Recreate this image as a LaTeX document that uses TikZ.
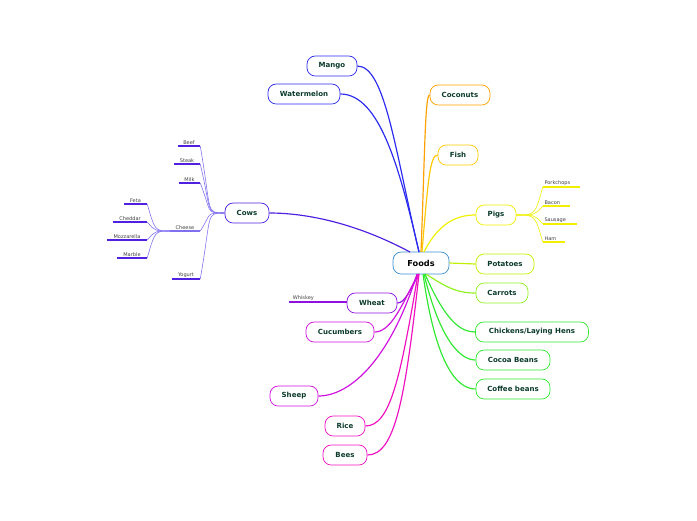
\documentclass[tikz,border=0pt]{standalone}
\usepackage{fontspec}
\setmainfont{DejaVu Sans}
\usepackage{tikz}
\usetikzlibrary{positioning}
\definecolor{cblue}{HTML}{2B2BF0}
\definecolor{cfoods}{HTML}{3A8FD0}
\definecolor{corange}{HTML}{FFA000}
\definecolor{cgold}{HTML}{FFC800}
\definecolor{cyel}{HTML}{F0F000}
\definecolor{cyg}{HTML}{C0F000}
\definecolor{clg}{HTML}{90F020}
\definecolor{cgreen}{HTML}{30E830}
\definecolor{cviolet}{HTML}{5020E0}
\definecolor{cpurple}{HTML}{9010E0}
\definecolor{cmag}{HTML}{D010E0}
\definecolor{cpink}{HTML}{F010C0}
\definecolor{clav}{HTML}{8070F0}
\definecolor{txt}{HTML}{0A3A2A}
\tikzset{
  topic/.style = {draw, rounded corners=7pt, minimum height=20*0.03cm,
    font=\fontsize{6}{7}\selectfont\bfseries, text=txt, inner sep=1pt, line width=0.6pt},
  leaf/.style = {font=\fontsize{4.3}{5}\selectfont, text=black!75, inner sep=1pt, anchor=south},
  branch/.style = {line width=1pt},
  twig/.style = {line width=0.5pt}
}
\begin{document}
\begin{tikzpicture}[x=0.03cm, y=-0.03cm]
	\useasboundingbox (0,0) rectangle (697,520);
	\node[topic, draw=cfoods, minimum width=56*0.03cm, minimum height=22*0.03cm,
	  font=\fontsize{7}{8}\selectfont\bfseries, text=black] (foods) at (421,263) {Foods};
	%% upper left
	\node[topic, draw=cblue, minimum width=50*0.03cm] (mango) at (332,66) {Mango};
	\node[topic, draw=cblue, minimum width=72*0.03cm] (melon) at (304,94) {Watermelon};
	\node[topic, draw=cviolet, minimum width=44*0.03cm] (cows) at (247,213) {Cows};
	%% right side
	\node[topic, draw=corange, minimum width=60*0.03cm] (coco) at (460,95) {Coconuts};
	\node[topic, draw=cgold, minimum width=40*0.03cm] (fish) at (458,155) {Fish};
	\node[topic, draw=cyel, minimum width=40*0.03cm] (pigs) at (496,215) {Pigs};
	\node[topic, draw=cyg, minimum width=58*0.03cm] (pota) at (505,264) {Potatoes};
	\node[topic, draw=clg, minimum width=52*0.03cm] (carr) at (502,293) {Carrots};
	\node[topic, draw=cgreen, minimum width=113*0.03cm] (hens) at (532,332) {Chickens/Laying Hens};
	\node[topic, draw=cgreen, minimum width=74*0.03cm] (cocoa) at (513,360) {Cocoa Beans};
	\node[topic, draw=cgreen, minimum width=74*0.03cm] (coffee) at (513,389) {Coffee beans};
	%% lower left
	\node[topic, draw=cpurple, minimum width=50*0.03cm] (wheat) at (372,303) {Wheat};
	\node[topic, draw=cmag, minimum width=68*0.03cm] (cucu) at (340,332) {Cucumbers};
	\node[topic, draw=cmag, minimum width=48*0.03cm] (sheep) at (294,396) {Sheep};
	\node[topic, draw=cpink, minimum width=40*0.03cm] (rice) at (345,426) {Rice};
	\node[topic, draw=cpink, minimum width=44*0.03cm] (bees) at (345,455) {Bees};
	%% leaves
	\node[leaf, minimum width=57*0.03cm] (whisky) at (318,302) {\hspace*{-25pt}Whiskey};
	\node[leaf, minimum width=22*0.03cm] (beef) at (189,146) {Beef};
	\node[leaf, minimum width=26*0.03cm] (steak) at (187,164) {Steak};
	\node[leaf, minimum width=21*0.03cm] (milk) at (189.5,183) {Milk};
	\node[leaf, minimum width=30*0.03cm] (cheese) at (185,231) {Cheese};
	\node[leaf, minimum width=28*0.03cm] (yog) at (186,279) {Yogurt};
	\node[leaf, minimum width=23*0.03cm] (feta) at (135.5,204) {Feta};
	\node[leaf, minimum width=34*0.03cm] (ched) at (130,222) {Cheddar};
	\node[leaf, minimum width=40*0.03cm] (mozz) at (127,240) {Mozzarella};
	\node[leaf, minimum width=30*0.03cm] (marb) at (132,258) {Marble};
	\node[leaf, minimum width=37*0.03cm, text width=34*0.03cm] (pork) at (561.5,187) {Porkchops};
	\node[leaf, minimum width=27*0.03cm, text width=24*0.03cm] (bacon) at (556.5,206) {Bacon};
	\node[leaf, minimum width=34*0.03cm, text width=31*0.03cm] (saus) at (560,224) {Sausage};
	\node[leaf, minimum width=22*0.03cm, text width=19*0.03cm] (ham) at (554,242) {Ham};
	\foreach \n/\c in {whisky/cpurple, beef/cviolet, steak/cviolet, milk/cviolet, cheese/clav,
	  yog/cviolet, feta/cviolet, ched/cviolet, mozz/cviolet, marb/cviolet,
	  pork/cyel, bacon/cyel, saus/cyel, ham/cyel}
	  \draw[\c, line width=1pt] (\n.south west) -- (\n.south east);
	%% Foods to topics
	\draw[branch, cblue] (419,252) .. controls (395,150) and (385,66) .. (mango.east);
	\draw[branch, cblue] (419,252) .. controls (400,170) and (380,94) .. (melon.east);
	\draw[branch, cviolet] (410,252) .. controls (350,220) and (300,213) .. (cows.east);
	\draw[branch, corange] (421,252) .. controls (425,150) and (425,95) .. (coco.west);
	\draw[branch, cgold] (422,252) .. controls (428,180) and (430,155) .. (fish.west);
	\draw[branch, cyel] (424,252) .. controls (440,220) and (460,215) .. (pigs.west);
	\draw[branch, cyg] (foods.east) -- (pota.west);
	\draw[branch, clg] (426,274) .. controls (450,290) and (460,293) .. (carr.west);
	\draw[branch, cgreen] (425,274) .. controls (445,320) and (460,332) .. (hens.west);
	\draw[branch, cgreen] (424,274) .. controls (440,340) and (460,360) .. (cocoa.west);
	\draw[branch, cgreen] (423,274) .. controls (435,360) and (455,389) .. (coffee.west);
	\draw[branch, cpurple] (419,274) .. controls (410,290) and (405,303) .. (wheat.east);
	\draw[branch, cmag] (418,274) .. controls (400,310) and (390,332) .. (cucu.east);
	\draw[branch, cmag] (417,274) .. controls (390,360) and (350,396) .. (sheep.east);
	\draw[branch, cpink] (418,274) .. controls (400,380) and (390,426) .. (rice.east);
	\draw[branch, cpink] (419,274) .. controls (405,400) and (395,455) .. (bees.east);
	%% sub-branches
	\draw[twig, cpurple] (wheat.west) -- (whisky.south east);
	\foreach \n in {beef, steak, milk, cheese, yog}
	  \draw[twig, clav] (cows.west) .. controls (205,213) and (212,213) .. (\n.south east);
	\foreach \n in {feta, ched, mozz, marb}
	  \draw[twig, clav] (cheese.south west) .. controls (155,231) .. (\n.south east);
	\foreach \n in {pork, bacon, saus, ham}
	  \draw[twig, cyel] (pigs.east) .. controls (535,215) .. (\n.south west);
\end{tikzpicture}
\end{document}
